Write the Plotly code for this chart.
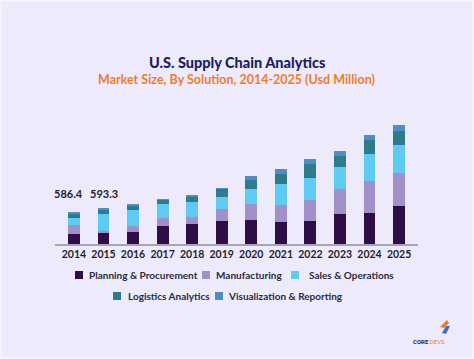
import plotly.graph_objects as go

years = ["2014", "2015", "2016", "2017", "2018", "2019", "2020", "2021", "2022", "2023", "2024", "2025"]
planning = [193, 200, 225, 343, 374, 437, 456, 406, 437, 555, 587, 705]
manufacturing = [168, 44, 106, 150, 137, 218, 287, 318, 381, 480, 599, 624]
sales = [125, 312, 300, 250, 281, 218, 287, 393, 424, 406, 493, 518]
logistics = [87, 94, 94, 87, 100, 162, 175, 200, 250, 206, 268, 268]
visualization = [12, 12, 19, 12, 12, 12, 62, 87, 100, 100, 100, 106]

series_names = ["Planning & Procurement", "Manufacturing", "Sales & Operations",
                "Logistics Analytics", "Visualization & Reporting"]
series_values = [planning, manufacturing, sales, logistics, visualization]
colors = ["#2E0E45", "#A290CB", "#5ECCF2", "#2E7B8C", "#4E8EC6"]

label_years = ["2014", "2015"]
label_texts = ["586.4", "593.3"]

W, H = 474, 359
L, R, T, B = 55, 418, 100, 244


def px(x):
    return (x - L) / (R - L)


def py(y):
    return (B - y) / (B - T)


fig = go.Figure()
for name, vals, c in zip(series_names, series_values, colors):
    fig.add_trace(go.Bar(x=years, y=vals, name=name, marker=dict(color=c, line=dict(width=0)),
                         showlegend=False, hoverinfo="skip"))

ymax = (B - T) * 18.72
label_y = (B - 193) * 18.72

annotations = []
for yr, t, xs in zip(label_years, label_texts, [-5, 1]):
    annotations.append(dict(x=years.index(yr), y=label_y, xref="x", yref="y", text=t, showarrow=False,
                            xshift=xs, yanchor="middle",
                            font=dict(family="Lato", size=11, color="#222230", weight=700)))

annotations.append(dict(x=px(237), y=py(62), xref="paper", yref="paper", yanchor="middle",
                        text="U.S. Supply Chain Analytics", showarrow=False,
                        font=dict(family="Lato", size=14.5, color="#1B1F5E", weight=900)))
annotations.append(dict(x=px(237), y=py(79), xref="paper", yref="paper", yanchor="middle",
                        text="Market Size, By Solution, 2014-2025 (Usd Million)", showarrow=False,
                        font=dict(family="Lato", size=12.5, color="#F07B2B", weight=700)))

shapes = []
leg_sq = [(75, 275), (202, 275), (291, 275), (113, 296), (215, 296)]
leg_tx = [87, 214, 307, 126, 226]
for (sx, sy), tx, name, c in zip(leg_sq, leg_tx, series_names, colors):
    shapes.append(dict(type="rect", xref="paper", yref="paper",
                       x0=px(sx), x1=px(sx + 8), y0=py(sy - 4), y1=py(sy + 4),
                       fillcolor=c, line=dict(width=0)))
    annotations.append(dict(x=px(tx), y=py(sy), xref="paper", yref="paper", text=name,
                            showarrow=False, xanchor="left", yanchor="middle",
                            font=dict(family="Lato", size=10, color="#2A2A3A", weight=700)))

# logo
shapes.append(dict(type="path", xref="paper", yref="paper",
                   path="M {},{} L {},{} L {},{} L {},{} Z".format(px(447), py(320), px(440), py(327),
                                                                    px(444), py(328), px(449), py(323)),
                   fillcolor="#F07B2B", line=dict(width=0)))
shapes.append(dict(type="path", xref="paper", yref="paper",
                   path="M {},{} L {},{} L {},{} L {},{} Z".format(px(446), py(326), px(450), py(326),
                                                                    px(446), py(334), px(442), py(333)),
                   fillcolor="#3F6FC0", line=dict(width=0)))
annotations.append(dict(x=px(447), y=py(341), xref="paper", yref="paper", yanchor="middle",
                        text="<b>CORE</b> <span style='color:#F07B2B'>DEVS</span>", showarrow=False,
                        font=dict(family="Liberation Sans Narrow, Roboto", size=6, color="#1B1F5E")))

# soft border
shapes.append(dict(type="rect", xref="paper", yref="paper",
                   x0=px(0.5), x1=px(W - 0.5), y0=py(H - 0.5), y1=py(0.5),
                   line=dict(color="#F6F5FD", width=2), fillcolor="rgba(0,0,0,0)", layer="below"))

fig.update_layout(
    width=W, height=H,
    margin=dict(l=L, r=W - R, t=T, b=H - B),
    paper_bgcolor="#EDEBFB", plot_bgcolor="#EDEBFB",
    barmode="stack", bargap=0.6,
    xaxis=dict(type="category", range=[-0.64, 11.64], showline=True, linecolor="#A4A4B4",
               linewidth=1.5, ticks="", showgrid=False, zeroline=False, fixedrange=True,
               tickfont=dict(family="Lato", size=10.5, color="#1E1E2E", weight=700)),
    yaxis=dict(range=[0, ymax], visible=False, showgrid=False, zeroline=False, fixedrange=True),
    annotations=annotations, shapes=shapes,
    showlegend=False,
)

fig.write_html("out.html", config={"displayModeBar": False},
               post_script="document.body.style.margin='0';document.body.style.overflow='hidden';")
